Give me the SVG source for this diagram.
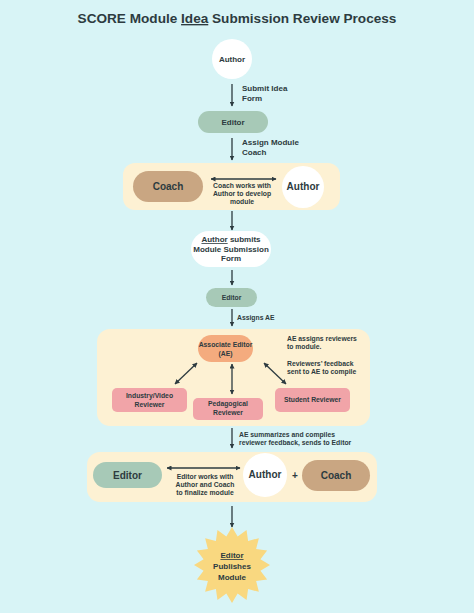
<svg xmlns="http://www.w3.org/2000/svg" width="474" height="613" viewBox="0 0 474 613">
<defs>
<marker id="ah" viewBox="0 0 10 10" refX="9" refY="5" markerWidth="5" markerHeight="5" orient="auto-start-reverse" markerUnits="userSpaceOnUse">
<path d="M0,0 L10,5 L0,10 z" fill="#2d3b40"/>
</marker>
<style>
text{font-family:"Liberation Sans",Arial,sans-serif;font-weight:bold;fill:#2d3b40}
.t{font-size:13.6px}
.l{font-size:8px}
.s{font-size:6.8px}
.n{font-size:8px}
.b{font-size:10px}
.c{text-anchor:middle}
.band{fill:#fdf1d3}
.white{fill:#ffffff}
.green{fill:#a7c9b7}
.brown{fill:#c9a682}
.pink{fill:#f1a4a8}
.orange{fill:#f4ab7e}
.gold{fill:#f9d880}
.ln{stroke:#2d3b40;stroke-width:1.3;fill:none}
</style>
</defs>
<rect x="0" y="0" width="474" height="613" fill="#d8f4f6"/>
<text class="t c" x="237" y="23">SCORE Module <tspan text-decoration="underline">Idea</tspan> Submission Review Process</text>

<g id="bands">
<rect class="band" x="123" y="163" width="217" height="47" rx="12"/>
<rect class="band" x="97" y="329" width="273" height="97" rx="13"/>
<rect class="band" x="87" y="452" width="290" height="50" rx="13"/>
</g>

<g id="connectors">
<line class="ln" x1="232" y1="84" x2="232" y2="106" marker-end="url(#ah)"/>
<line class="ln" x1="232" y1="138" x2="232" y2="160" marker-end="url(#ah)"/>
<line class="ln" x1="211" y1="179" x2="276" y2="179" marker-start="url(#ah)" marker-end="url(#ah)"/>
<line class="ln" x1="232" y1="211" x2="232" y2="230" marker-end="url(#ah)"/>
<line class="ln" x1="232" y1="270" x2="232" y2="285" marker-end="url(#ah)"/>
<line class="ln" x1="232" y1="309" x2="232" y2="326" marker-end="url(#ah)"/>
<line class="ln" x1="197" y1="363" x2="175" y2="384" marker-start="url(#ah)" marker-end="url(#ah)"/>
<line class="ln" x1="232" y1="364" x2="232" y2="394" marker-start="url(#ah)" marker-end="url(#ah)"/>
<line class="ln" x1="264" y1="363" x2="286" y2="384" marker-start="url(#ah)" marker-end="url(#ah)"/>
<line class="ln" x1="232" y1="428" x2="232" y2="448" marker-end="url(#ah)"/>
<line class="ln" x1="167" y1="468" x2="240" y2="468" marker-start="url(#ah)" marker-end="url(#ah)"/>
<line class="ln" x1="232" y1="506" x2="232" y2="527" marker-end="url(#ah)"/>
<text class="l" x="242" y="91">Submit Idea</text>
<text class="l" x="242" y="101">Form</text>
<text class="l" x="242" y="145">Assign Module</text>
<text class="l" x="242" y="155">Coach</text>
<text class="s c" x="242" y="188">Coach works with</text>
<text class="s c" x="242" y="196">Author to develop</text>
<text class="s c" x="242" y="204">module</text>
<text class="s" x="237" y="320">Assigns AE</text>
<text class="s" x="287" y="341">AE assigns reviewers</text>
<text class="s" x="287" y="349">to module.</text>
<text class="s" x="287" y="366">Reviewers’ feedback</text>
<text class="s" x="287" y="374">sent to AE to compile</text>
<text class="s" x="239" y="437">AE summarizes and compiles</text>
<text class="s" x="239" y="445">reviewer feedback, sends to Editor</text>
<text class="s c" x="205" y="479">Editor works with</text>
<text class="s c" x="205" y="487">Author and Coach</text>
<text class="s c" x="205" y="495">to finalize module</text>
</g>

<g id="author1">
<circle class="white" cx="232" cy="59" r="20"/>
<text class="n c" x="232" y="62">Author</text>
</g>
<g id="editor1">
<rect class="green" x="198" y="111" width="70" height="22" rx="11"/>
<text class="n c" x="233" y="125">Editor</text>
</g>
<g id="coach1">
<rect class="brown" x="133" y="171" width="70" height="31" rx="15.5"/>
<text class="b c" x="168" y="190">Coach</text>
</g>
<g id="author2">
<circle class="white" cx="303" cy="187" r="21"/>
<text class="b c" x="303" y="190">Author</text>
</g>
<g id="submit">
<rect class="white" x="191" y="231" width="80" height="36" rx="18"/>
<text class="n c" x="231" y="242"><tspan text-decoration="underline">Author</tspan> submits</text>
<text class="n c" x="231" y="252">Module Submission</text>
<text class="n c" x="231" y="261">Form</text>
</g>
<g id="editor2">
<rect class="green" x="206" y="288" width="51" height="19" rx="9.5"/>
<text class="s c" x="231.5" y="300">Editor</text>
</g>
<g id="ae">
<rect class="orange" x="198" y="335" width="55" height="27" rx="13.5"/>
<text class="s c" x="225.5" y="347">Associate Editor</text>
<text class="s c" x="225.5" y="356">(AE)</text>
</g>
<g id="industry">
<rect class="pink" x="112" y="388" width="75" height="24" rx="5"/>
<text class="s c" x="149.5" y="398">Industry/Video</text>
<text class="s c" x="149.5" y="407">Reviewer</text>
</g>
<g id="pedagogical">
<rect class="pink" x="193" y="398" width="70" height="22" rx="5"/>
<text class="s c" x="228" y="406">Pedagogical</text>
<text class="s c" x="228" y="415">Reviewer</text>
</g>
<g id="student">
<rect class="pink" x="275" y="388" width="75" height="24" rx="5"/>
<text class="s c" x="312.5" y="402">Student Reviewer</text>
</g>
<g id="editor3">
<rect class="green" x="93" y="462" width="69" height="26" rx="13"/>
<text class="b c" x="127.5" y="479">Editor</text>
</g>
<g id="author3">
<circle class="white" cx="265" cy="475" r="22"/>
<text class="b c" x="265" y="478">Author</text>
</g>
<text class="b c" x="295" y="479">+</text>
<g id="coach2">
<rect class="brown" x="302" y="460" width="68" height="31" rx="15.5"/>
<text class="b c" x="336" y="479">Coach</text>
</g>
<g id="publish">
<polygon class="gold" transform="translate(232,565)" points="38,0 28.44,5.66 35.11,14.54 24.11,16.11 26.87,26.87 16.11,24.11 14.54,35.11 5.66,28.44 0,38 -5.66,28.44 -14.54,35.11 -16.11,24.11 -26.87,26.87 -24.11,16.11 -35.11,14.54 -28.44,5.66 -38,0 -28.44,-5.66 -35.11,-14.54 -24.11,-16.11 -26.87,-26.87 -16.11,-24.11 -14.54,-35.11 -5.66,-28.44 0,-38 5.66,-28.44 14.54,-35.11 16.11,-24.11 26.87,-26.87 24.11,-16.11 35.11,-14.54 28.44,-5.66"/>
<text class="n c" x="232" y="558"><tspan text-decoration="underline">Editor</tspan></text>
<text class="n c" x="232" y="569">Publishes</text>
<text class="n c" x="232" y="580">Module</text>
</g>
</svg>
